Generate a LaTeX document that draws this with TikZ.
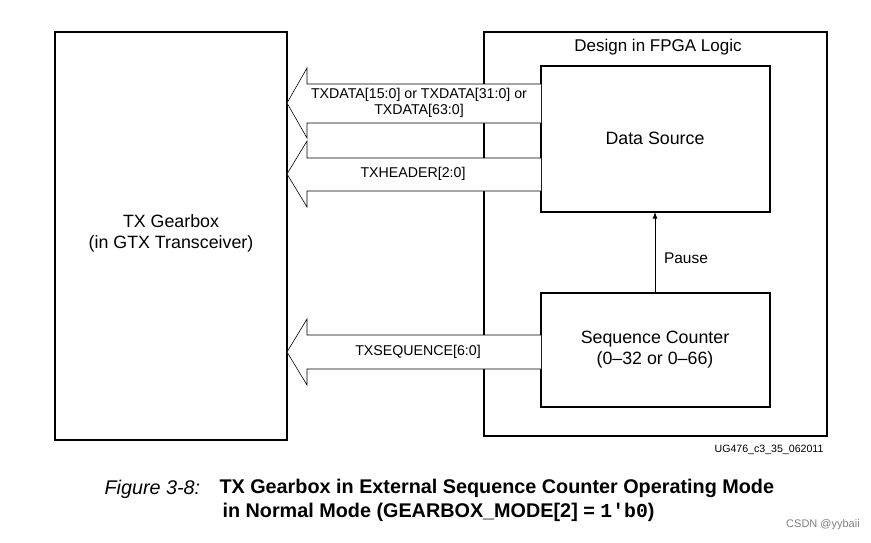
\documentclass[tikz,border=0pt]{standalone}
\usepackage{fontspec}
\setmainfont{Liberation Sans}
\usetikzlibrary{arrows.meta,calc,positioning}

\begin{document}
\begin{tikzpicture}[>=Latex, x=1pt, y=-1pt,
  box/.style={draw, line width=1.1pt},
  bus/.style={draw, fill=white, line width=0.6pt},
  big/.style={font=\fontsize{17.8}{21}\selectfont, align=center},
  lbl/.style={font=\fontsize{14.2}{15.5}\selectfont, align=center}]
  \useasboundingbox (0,0) rectangle (871,542);

  % Boxes
  \draw[box] (55,32) rectangle (287,440);
  \node[big] (gear) at (171,233) {TX Gearbox\\(in GTX Transceiver)};

  \draw[box] (484,32) rectangle (827,436);
  \node[big, font=\fontsize{17}{20}\selectfont] (fpga) at (658,47) {Design in FPGA Logic};

  \draw[box] (541,66) rectangle (770,212);
  \node[big] (src) at (655,138) {Data Source};

  \draw[box] (541,293) rectangle (770,407);
  \node[big] (seq) at (655,350) {Sequence Counter\\(0--32 or 0--66)};

  % Pause
  \coordinate (srcb) at (655,212);
  \coordinate (seqt) at (655,293);
  \draw[->, line width=0.8pt] (seqt) -- (srcb);
  \node[lbl, font=\fontsize{15.5}{18}\selectfont] (pause) at (686,258) {Pause};

  % Bus arrows
  \draw[bus] (541,84) -- (307,84) -- (307,68) -- (287,103) -- (307,138) -- (307,123) -- (541,123);
  \node[lbl] (data) at (419,103) {TXDATA[15:0] or TXDATA[31:0] or\\TXDATA[63:0]};

  \draw[bus] (541,158) -- (307,158) -- (307,141) -- (287,174) -- (307,207) -- (307,191) -- (541,191);
  \node[lbl] (hdr) at (413,174) {TXHEADER[2:0]};

  \draw[bus] (541,335) -- (307,335) -- (307,319) -- (287,352) -- (307,385) -- (307,369) -- (541,369);
  \node[lbl] (sqn) at (418,352) {TXSEQUENCE[6:0]};

  % Caption
  \node[font=\fontsize{10.6}{12}\selectfont, anchor=east] (id) at (827,450) {UG476\_c3\_35\_062011};
  \node[font=\fontsize{19.8}{23}\selectfont, anchor=base west] (fig) at (101,494) {\itshape Figure 3-8:};
  \node[font=\fontsize{19.8}{24}\selectfont\bfseries, align=left, anchor=north west] (cap) at (216,476)
    {TX Gearbox in External Sequence Counter Operating Mode\\\hspace{3pt}in Normal Mode (GEARBOX\_MODE[2] = {\fontspec{Liberation Mono}1'b0})};
  \node[font=\fontsize{11}{13}\selectfont, text=gray] (wm) at (823,525) {CSDN @yybaii};
\end{tikzpicture}
\end{document}
